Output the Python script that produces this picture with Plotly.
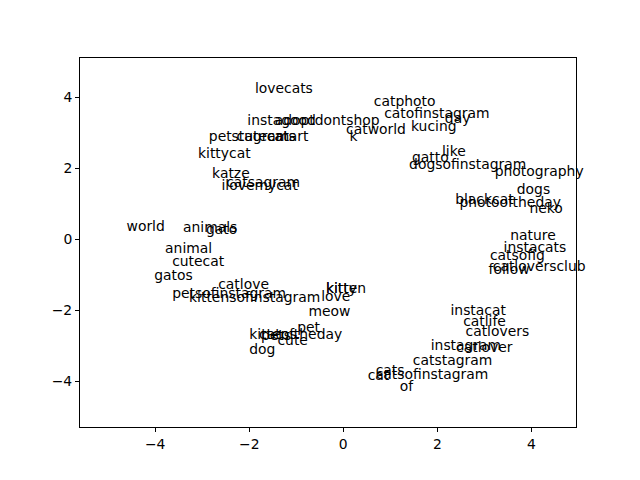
import plotly.graph_objects as go

words = ["lovecats", "instagood", "adoptdontshop", "petstagram", "cutecats", "catart",
         "kittycat", "katze", "catsagram", "ilovemycat", "catphoto", "catofinstagram",
         "day", "catworld", "k", "kucing", "like", "gatto", "dogsofinstagram",
         "photography", "dogs", "blackcat", "photooftheday", "neko", "world", "animals",
         "gato", "animal", "cutecat", "gatos", "nature", "instacats", "catsofig",
         "catloversclub", "follow", "catlove", "petsofinstagram", "kittensofinstagram",
         "kitten", "kitty", "love", "meow", "pet", "kittens", "catoftheday", "pets",
         "cute", "dog", "instacat", "catlife", "catlovers", "instagram", "catlover",
         "catstagram", "cats", "cat", "catsofinstagram", "of"]
xs = [-1.88, -2.04, -1.46, -2.86, -2.27, -1.62,
      -3.09, -2.79, -2.49, -2.59, 0.65, 0.87,
      2.16, 0.06, 0.13, 1.44, 2.10, 1.46, 1.40,
      3.22, 3.69, 2.38, 2.47, 3.96, -4.61, -3.41,
      -2.92, -3.79, -3.64, -4.02, 3.55, 3.41, 3.12,
      3.18, 3.09, -2.66, -3.64, -3.28,
      -0.37, -0.37, -0.47, -0.74, -0.98, -2.00, -1.79, -1.75,
      -1.40, -2.00, 2.28, 2.55, 2.60, 1.86, 2.40,
      1.48, 0.69, 0.52, 0.69, 1.20]
ys = [4.16, 3.24, 3.24, 2.81, 2.81, 2.79,
      2.31, 1.77, 1.50, 1.43, 3.79, 3.46,
      3.32, 2.99, 2.81, 3.09, 2.38, 2.21, 2.00,
      1.82, 1.32, 1.02, 0.94, 0.77, 0.26, 0.24,
      0.17, -0.36, -0.72, -1.10, 0.00, -0.33, -0.56,
      -0.85, -0.94, -1.37, -1.61, -1.72,
      -1.49, -1.47, -1.69, -2.14, -2.57, -2.78, -2.78, -2.80,
      -2.94, -3.20, -2.10, -2.42, -2.70, -3.08, -3.15,
      -3.50, -3.78, -3.92, -3.90, -4.23]

tick_vals = [-4, -2, 0, 2, 4]
x_range = [-5.6, 4.95]
y_range = [-5.28, 5.11]

W, H = 640, 480
margin = dict(l=80, r=64, t=58, b=53)
plot_h = H - margin["t"] - margin["b"]
# words are placed by their baseline (left/baseline anchor); plotly's "top right"
# sits the text box bottom on the point, so drop it by the font descent
descent_px = 4.5
dy = descent_px * (y_range[1] - y_range[0]) / plot_h
ys_anchor = [v - dy for v in ys]

fig = go.Figure(go.Scatter(
    x=xs, y=ys_anchor, text=words, mode="text", textposition="top right",
    textfont=dict(family="DejaVu Sans", size=13.9, color="black"),
    cliponaxis=False, hoverinfo="skip", showlegend=False))

axis_common = dict(showline=True, mirror=True, linecolor="black", linewidth=1,
                   ticks="outside", ticklen=4, tickwidth=1, tickcolor="black",
                   showgrid=False, zeroline=False, tickvals=tick_vals,
                   tickfont=dict(family="DejaVu Sans", size=13.9, color="black"))
fig.update_xaxes(range=x_range, **axis_common)
fig.update_yaxes(range=y_range, **axis_common)
fig.update_layout(width=W, height=H, margin=margin,
                  plot_bgcolor="white", paper_bgcolor="white")
fig.write_html("out.html", config={"displayModeBar": False},
               post_script="document.body.style.margin='0';")
